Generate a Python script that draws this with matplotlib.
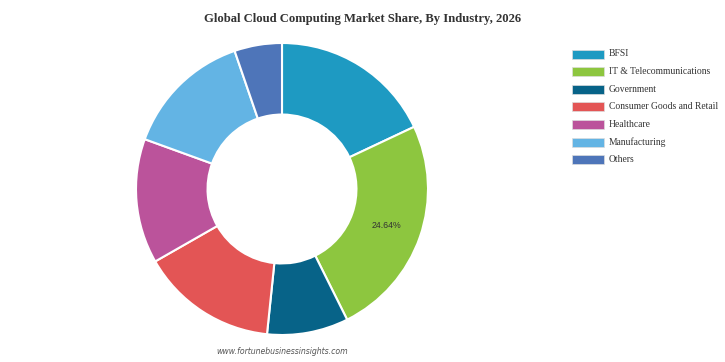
"""Donut chart: global cloud computing market share by industry, 2026."""
import numpy as np
import matplotlib.pyplot as plt
from matplotlib.patches import Rectangle

industries = ["BFSI", "IT & Telecommunications", "Government", "Consumer Goods and Retail",
              "Healthcare", "Manufacturing", "Others"]
shares = [18.0, 24.64, 9.0, 15.1, 13.8, 14.2, 5.26]
colors = ["#1e9ac2", "#8dc63f", "#076388", "#e35555", "#bb539b", "#63b4e4", "#4e75b9"]
shown_label = "24.64%"

W, H = 725, 362
fig = plt.figure(figsize=(W / 100, H / 100), dpi=100)

# pie axes: centre (282, 189) px, radius 146 px
cx, cy, r = 282, 189, 146
ax = fig.add_axes([(cx - r) / W, (H - cy - r) / H, 2 * r / W, 2 * r / H])
wedges, _ = ax.pie(shares, colors=colors, startangle=90, counterclock=False,
                   radius=1, wedgeprops=dict(width=0.49, edgecolor="white", linewidth=1.5))
ax.set_xlim(-1.0, 1.0)
ax.set_ylim(-1.0, 1.0)
ax.set_aspect("equal")
ax.axis("off")

# percentage label on the IT slice
start = 90 - 360 * shares[0] / 100
mid = np.deg2rad(start - 360 * shares[1] / 200)
ax.text(0.76 * np.cos(mid), 0.76 * np.sin(mid), shown_label, ha="center", va="center",
        fontsize=6.3, color="#333333", family="Liberation Sans")

fig.text(0.5, 1 - 19 / H, "Global Cloud Computing Market Share, By Industry, 2026",
         ha="center", va="center", fontsize=9.1, fontweight="bold",
         family="Liberation Serif", color="#333333")

# legend
y0, dy = 54, 17.6
for i, (name, c) in enumerate(zip(industries, colors)):
    y = y0 + i * dy
    fig.patches.append(Rectangle((572 / W, 1 - (y + 4.5) / H), 32 / W, 9 / H,
                                 transform=fig.transFigure, facecolor=c,
                                 edgecolor="#dddddd", linewidth=0.5))
    fig.text(609 / W, 1 - y / H, name, ha="left", va="center", fontsize=6.9,
             family="Liberation Serif", color="#333333")

fig.text(282 / W, 1 - 352 / H, "www.fortunebusinessinsights.com", ha="center",
         va="center", fontsize=5.6, style="italic", color="#555555", family="DejaVu Sans")

fig.savefig("out.png", dpi=100)
